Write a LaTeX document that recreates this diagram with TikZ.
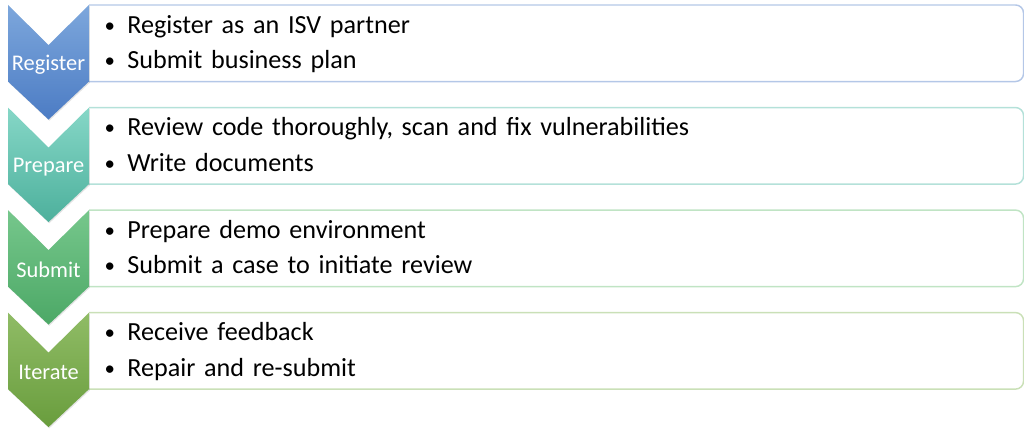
\documentclass[tikz,border=0pt]{standalone}
\usepackage{fontspec}
\setmainfont{Carlito}
\usetikzlibrary{%
  positioning,% wg. " of "
  shadows%
}
\definecolor{regtop}{HTML}{7DA7DC}
\definecolor{regbot}{HTML}{4C7CC4}
\definecolor{regline}{HTML}{B4C7E7}
\definecolor{preptop}{HTML}{86D7C7}
\definecolor{prepbot}{HTML}{4DB09C}
\definecolor{prepline}{HTML}{B4E1D9}
\definecolor{subtop}{HTML}{76C78C}
\definecolor{subbot}{HTML}{4CA866}
\definecolor{subline}{HTML}{C0E4C4}
\definecolor{itertop}{HTML}{90BC66}
\definecolor{iterbot}{HTML}{699D3D}
\definecolor{iterline}{HTML}{CAE0B7}

\begin{document}
\begin{tikzpicture}[
    node distance=19.5pt,
    box/.style={minimum width=700.5pt,minimum height=57pt,inner xsep=10.5pt,
      text width=679pt,align=left,
      font=\fontsize{19.6}{26.5}\selectfont},
    frame/.style={line width=1.1pt,rounded corners=6pt,draw=#1},
    chev/.style={drop shadow={shadow xshift=0.6pt,shadow yshift=-0.9pt,opacity=0.22}},
    lab/.style={text=white,font=\fontsize{16.8}{20}\selectfont}
  ]
    \useasboundingbox (0,0) rectangle (768pt,-326.25pt);
    \newcommand{\itm}[1]{\rule[-4.5pt]{0pt}{20.5pt}%
      \makebox[17.8pt][l]{\hspace{0.8pt}\raisebox{0.7pt}{\scalebox{0.8}{\textbullet}}}#1}

    %register row
    \node[box,anchor=north west] (b1) at (66.75pt,-3.75pt)
      {\itm{Register as an ISV partner}\\\itm{Submit business plan}};
    %prepare row
    \node[box] (b2) [below =of b1]
      {\itm{Review code thoroughly, scan and fix vulnerabilities}\\\itm{Write documents}};
    %submit row
    \node[box] (b3) [below =of b2]
      {\itm{Prepare demo environment}\\\itm{Submit a case to initiate review}};
    %iterate row
    \node[box] (b4) [below =of b3]
      {\itm{Receive feedback}\\\itm{Repair and re-submit}};

    %frames, left side is hidden under the arrows
    \foreach \i/\c in {1/regline,2/prepline,3/subline,4/iterline}
      \draw[frame=\c] (b\i.north west) -- (b\i.north east)
        -- (b\i.south east) -- (b\i.south west);

    %arrows with step names
    \foreach \i/\lab/\c in {1/Register/reg,2/Prepare/prep,3/Submit/sub,4/Iterate/iter}{
      \path[chev,top color=\c top,bottom color=\c bot]
        (b\i.north west) -- ([xshift=-30.375pt,yshift=-30pt]b\i.north west)
        -- ([xshift=-60.75pt]b\i.north west) -- ([xshift=-60.75pt]b\i.south west)
        -- ([xshift=-30.375pt,yshift=-28.5pt]b\i.south west) -- (b\i.south west) -- cycle;
      \node[lab] (l\i) at ([xshift=-30.375pt,yshift=12.5pt]b\i.south west) {\lab};
    }
\end{tikzpicture}
\end{document}
